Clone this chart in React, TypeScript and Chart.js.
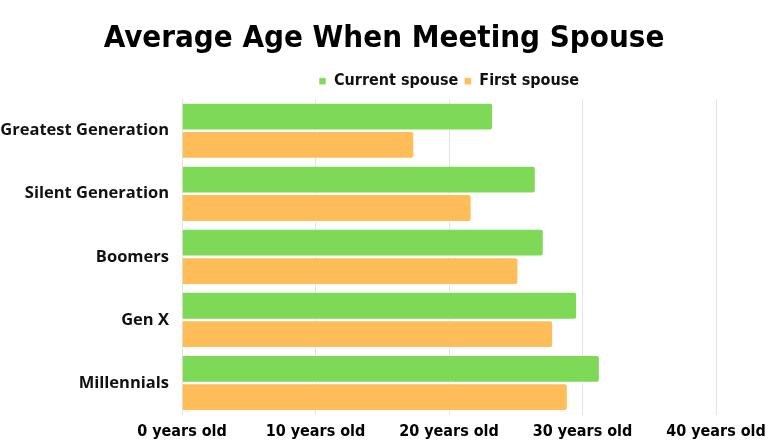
import React, { useEffect, useRef } from "react";
import { Chart, registerables } from "chart.js";

Chart.register(...registerables);

const categories = ["Greatest Generation", "Silent Generation", "Boomers", "Gen X", "Millennials"];
const currentSpouse = [23.3, 26.5, 27.1, 29.6, 31.3];
const firstSpouse = [17.4, 21.7, 25.2, 27.8, 28.9];
const xTicks = [0, 10, 20, 30, 40];

const GREEN = "#7ED957";
const ORANGE = "#FFBD59";
const COND = '"DejaVu Sans Condensed", "Noto Sans", sans-serif';
const SANS = '"Open Sans", "Noto Sans", sans-serif';

export default function App() {
  const ref = useRef<HTMLCanvasElement | null>(null);
  useEffect(() => {
    if (!ref.current) return;
    const chart = new Chart(ref.current, {
      type: "bar",
      data: {
        labels: categories,
        datasets: [
          {
            label: "Current spouse",
            data: currentSpouse,
            backgroundColor: GREEN,
            borderColor: "rgba(255,255,255,0.6)",
            borderWidth: 1,
            borderRadius: 3,
            borderSkipped: "start",
            categoryPercentage: 0.9,
            barPercentage: 0.98,
          },
          {
            label: "First spouse",
            data: firstSpouse,
            backgroundColor: ORANGE,
            borderColor: "rgba(255,255,255,0.6)",
            borderWidth: 1,
            borderRadius: 3,
            borderSkipped: "start",
            categoryPercentage: 0.9,
            barPercentage: 0.98,
          },
        ],
      },
      options: {
        indexAxis: "y",
        responsive: false,
        animation: false,
        layout: { padding: { left: 0, right: 0, top: 0, bottom: 0 } },
        plugins: {
          title: {
            display: true,
            text: "Average Age When Meeting Spouse",
            color: "#000",
            font: { family: COND, size: 31, weight: "bold" },
            padding: { top: 20, bottom: 10 },
          },
          legend: {
            display: true,
            position: "top",
            fullSize: false,
            labels: {
              boxWidth: 7,
              boxHeight: 7,
              color: "#111",
              font: { family: COND, size: 16, weight: "bold" },
              padding: 6,
            },
          },
          tooltip: { enabled: false },
        },
        scales: {
          x: {
            min: 0,
            max: 40,
            afterBuildTicks: (scale: any) => {
              scale.ticks = xTicks.map((v) => ({ value: v }));
            },
            afterFit: (scale: any) => {
              scale.height = 26.5;
              scale.paddingRight = 52;
            },
            grid: { color: "#e3e3e3", drawTicks: false },
            border: { display: false },
            ticks: {
              color: "#000",
              padding: 8,
              font: { family: COND, size: 16, weight: "bold" },
              callback: (v: any) => `${v} years old`,
            },
          },
          y: {
            afterFit: (scale: any) => {
              scale.width = 182;
            },
            grid: { display: false },
            border: { display: false },
            ticks: {
              color: "#111",
              padding: 5,
              font: { family: SANS, size: 16.5, weight: "bold" },
            },
          },
        },
      },
    });
    return () => chart.destroy();
  }, []);
  return (
    <div style={{ position: "absolute", left: 0, top: 0, width: 768, height: 441, background: "#fff" }}>
      <canvas ref={ref} width={768} height={441} />
    </div>
  );
}
